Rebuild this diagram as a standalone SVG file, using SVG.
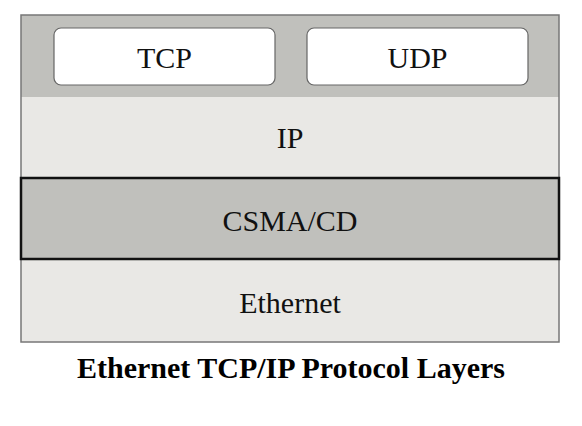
<svg xmlns="http://www.w3.org/2000/svg" width="582" height="426" viewBox="0 0 582 426">
<style>
.t{font-family:"Liberation Serif","Times New Roman",serif;font-size:30px;fill:#111;text-anchor:middle}
.b{font-weight:bold;fill:#000}
.box{fill:#fff;stroke:#666;stroke-width:1.2}
</style>
<rect width="582" height="426" fill="#fff"/>
<g id="transport">
<rect x="21" y="15" width="538" height="82" fill="#c0c0bc"/>
</g>
<g id="tcp">
<rect class="box" x="54" y="28" width="221" height="57" rx="7"/>
<text class="t" x="164.5" y="68">TCP</text>
</g>
<g id="udp">
<rect class="box" x="307" y="28" width="221" height="57" rx="7"/>
<text class="t" x="417.5" y="68">UDP</text>
</g>
<g id="ip">
<rect x="21" y="97" width="538" height="81" fill="#e9e8e5"/>
<text class="t" x="290" y="148">IP</text>
</g>
<g id="ethernet">
<rect x="21" y="259" width="538" height="83" fill="#e9e8e5"/>
<text class="t" x="290" y="313">Ethernet</text>
</g>
<rect x="21" y="15" width="538" height="327" fill="none" stroke="#777" stroke-width="1.5"/>
<g id="csma">
<rect x="21" y="178" width="538" height="81" fill="#c0c0bc" stroke="#111" stroke-width="2.5"/>
<text class="t" x="290" y="231">CSMA/CD</text>
</g>
<g id="connectors"/>
<text class="t b" x="291" y="378">Ethernet TCP/IP Protocol Layers</text>
</svg>
